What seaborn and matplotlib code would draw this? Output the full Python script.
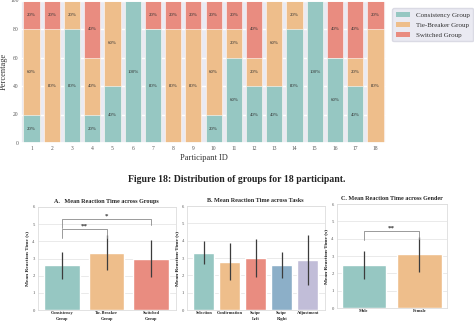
import numpy as np
import pandas as pd
import matplotlib
matplotlib.use("Agg")
import matplotlib.pyplot as plt
from matplotlib.patches import Patch
import seaborn as sns

# ---------------- data ----------------
participants = [str(i) for i in range(1, 19)]
consistency = [20, 0, 80, 20, 40, 100, 80, 0, 0, 20, 60, 40, 40, 80, 100, 60, 40, 0]
tie_breaker = [60, 80, 20, 40, 60, 0, 0, 80, 80, 60, 20, 20, 60, 20, 0, 0, 20, 80]
switched = [20, 20, 0, 40, 0, 0, 20, 20, 20, 20, 20, 40, 0, 0, 0, 40, 40, 20]
group_names = ["Consistency Group", "Tie-Breaker Group", "Switched Group"]

groups = ["Consistency\nGroup", "Tie-Breaker\nGroup", "Switched\nGroup"]
group_rt = [2.6, 3.34, 3.0]
group_err = [0.77, 1.0, 1.07]

tasks = ["Selection", "Confirmation", "Swipe\nLeft", "Swipe\nRight", "Adjustment"]
task_rt = [3.31, 2.78, 2.99, 2.62, 2.88]
task_err = [0.67, 1.07, 1.1, 0.75, 1.45]

genders = ["Male", "Female"]
gender_rt = [2.48, 3.1]
gender_err = [0.8, 1.0]

palette = ["#8ECFC9", "#FFBE7A", "#FA7F6F", "#82B0D2", "#BEB8DC"]
cols = [sns.desaturate(c, 0.75) for c in palette]

SERIF = ['Liberation Serif', 'DejaVu Serif']

# ---------------- figure ----------------
sns.set_theme(style="darkgrid")
plt.rcParams['font.family'] = SERIF
W, H = 474, 323
fig = plt.figure(figsize=(W / 100, H / 100), dpi=100)


def box(l, r, t, b):
    return [l / W, 1 - b / H, (r - l) / W, (b - t) / H]


ax = fig.add_axes(box(21.4, 385.6, 0.5, 143))
df = pd.DataFrame({"pid": participants, "C": consistency, "T": tie_breaker, "S": switched})
df["CT"] = df["C"] + df["T"]
df["CTS"] = df["CT"] + df["S"]
for col, c in [("CTS", cols[2]), ("CT", cols[1]), ("C", cols[0])]:
    sns.barplot(data=df, x="pid", y=col, color=c, saturation=1, width=0.8,
                edgecolor="white", linewidth=0.4, ax=ax)
for i in range(len(participants)):
    base = 0
    for v in (consistency[i], tie_breaker[i], switched[i]):
        if v > 0:
            ax.text(i, base + v / 2, f"{v}%", ha="center", va="center",
                    fontsize=3.5, color="#333333")
        base += v
ax.set_ylim(0, 100)
ax.set_yticks([0, 20, 40, 60, 80, 100])
ax.tick_params(labelsize=4, pad=2, length=0, colors="#555555")
ax.set_xlabel("Participant ID", fontsize=6, labelpad=2, color="#333333")
ax.set_ylabel("Percentage", fontsize=6, color="#333333")
ax.yaxis.set_label_coords(-14 / 364.2, 0.5)
handles = [Patch(facecolor=c, edgecolor="none") for c in cols[:3]]
leg = fig.legend(handles, group_names, loc="upper left",
                 bbox_to_anchor=(389 / W, 1 - 5 / H), fontsize=5,
                 handlelength=2.0, handleheight=0.7, handletextpad=0.9,
                 labelspacing=0.6, borderpad=0.5, frameon=True,
                 facecolor="#EAEAF2", edgecolor="#DADAE4", framealpha=1)
for t in leg.get_texts():
    t.set_color("#333333")

fig.text(0.5, 1 - 180 / H, "Figure 18: Distribution of groups for 18 participant.",
         ha="center", va="center", fontsize=7.0, fontweight="bold", color="#222222")


def panel(axp, cats, vals, errs, colors, title):
    d = pd.DataFrame({"cat": cats, "val": vals})
    sns.barplot(data=d, x="cat", y="val", hue="cat", palette=colors, legend=False,
                width=0.8, saturation=1, ax=axp)
    axp.errorbar(range(len(cats)), vals, yerr=errs, fmt="none",
                 ecolor="#3c3c3c", elinewidth=0.9, capsize=0)
    axp.set_ylim(0, 6)
    axp.set_yticks(range(7))
    axp.set_title(title, fontsize=4.4, fontweight="bold", pad=3)
    axp.set_ylabel("Mean Reaction Time (s)", fontsize=3.9, fontweight="bold", labelpad=2)
    axp.set_xlabel("")
    axp.tick_params(axis="y", labelsize=3.3, pad=2, length=0, colors="#555555")
    axp.tick_params(axis="x", labelsize=3.2, pad=1.0, length=0)
    for lab in axp.get_xticklabels():
        lab.set_fontweight("bold")
        lab.set_linespacing(1.5)
    for s in axp.spines.values():
        s.set_color("#dddddd")
        s.set_linewidth(0.6)
    axp.grid(axis="y", color="#e6e6e6", linewidth=0.6)
    axp.grid(axis="x", visible=False)


def bracket(axp, x1, x2, top, l1, l2, txt):
    axp.plot([x1, x1, x2, x2], [l1, top, top, l2], color="#8a8a8a", lw=0.6)
    axp.text((x1 + x2) / 2, top + 0.05, txt, ha="center", va="bottom",
             fontsize=5, fontweight="bold", color="#333333")


with sns.axes_style("whitegrid"):
    plt.rcParams['font.family'] = SERIF
    axA = fig.add_axes(box(37.5, 175.5, 207, 310))
    axB = fig.add_axes(box(187, 324.5, 206, 310))
    axC = fig.add_axes(box(336.5, 446.5, 204, 308))

panel(axA, groups, group_rt, group_err, cols[:3], "A.   Mean Reaction Time across Groups")
bracket(axA, 0, 1, 4.72, 4.2, 4.2, "**")
bracket(axA, 0, 2, 5.3, 4.75, 4.95, "*")
panel(axB, tasks, task_rt, task_err, cols[:5], "B. Mean Reaction Time across Tasks")
panel(axC, genders, gender_rt, gender_err, cols[:2], "C. Mean Reaction Time across Gender")
bracket(axC, 0, 1, 4.42, 3.92, 4.0, "**")

fig.savefig("out.png", dpi=100)
